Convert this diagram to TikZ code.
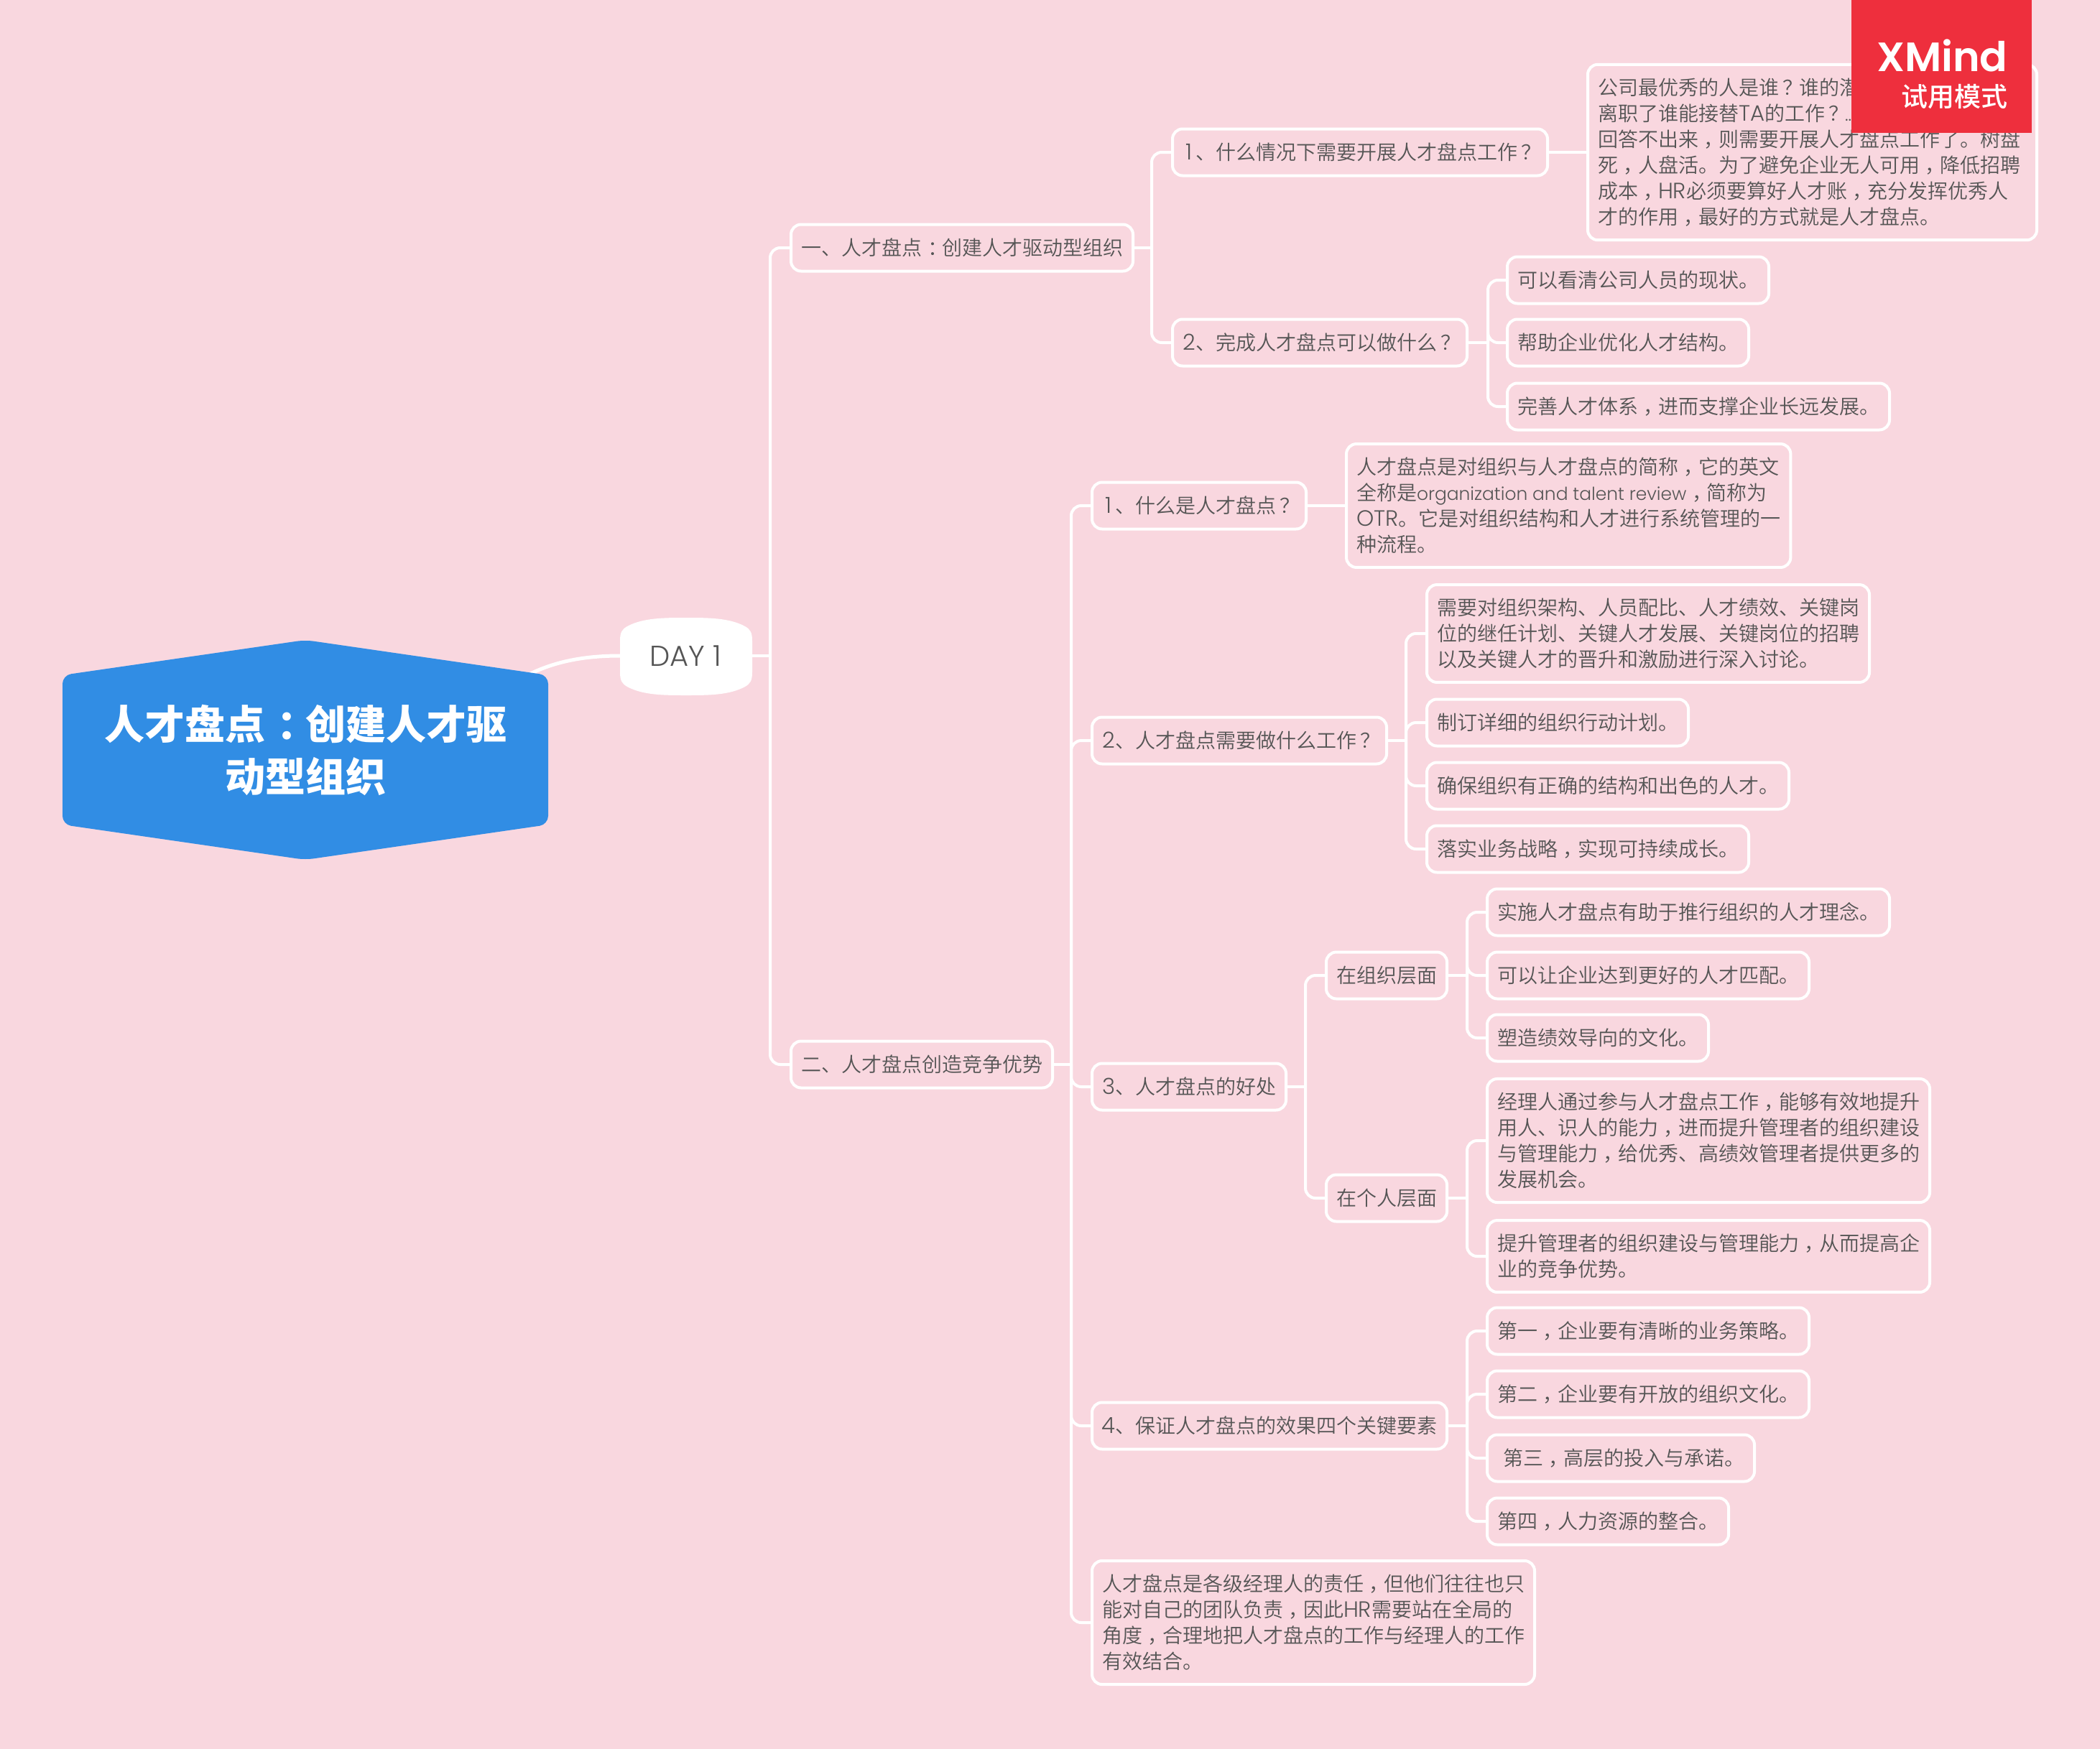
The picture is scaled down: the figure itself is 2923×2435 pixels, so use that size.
\documentclass[tikz,border=0pt]{standalone}
\usepackage{fontspec}
\setmainfont{Noto Sans CJK SC}[UprightFont=* DemiLight,BoldFont=* Black]
\newfontfamily\lat[Scale=0.89]{Poppins}[UprightFont=* Light]
\newfontfamily\latcap[Scale=1.1]{Poppins}[UprightFont=* Light]
\newfontfamily\wmfont{Poppins}[UprightFont=* SemiBold]
\newfontfamily\wmnote{Noto Sans CJK SC}[UprightFont=* Medium]
\newcommand{\nm}[1]{\makebox[9pt][c]{\latcap #1}}
\catcode`，=\active \def，{\kern.28em\char"FF0C\kern-.28em}
\catcode`？=\active \def？{\kern.2em\char"FF1F\kern-.2em}
\catcode`：=\active \def：{\kern.3em\char"FF1A\kern-.3em}
\definecolor{bgpink}{HTML}{F9D7DF}
\definecolor{rootblue}{HTML}{318DE4}
\definecolor{markred}{HTML}{EE2F3D}
\definecolor{inkgrey}{HTML}{555555}

\begin{document}
\begin{tikzpicture}[x=0.5pt, y=-0.5pt,
        link/.style={draw=white, line width=2pt, rounded corners=7pt},
        topic/.style={draw=white, line width=2pt, rounded corners=7pt, anchor=west, align=left, xshift=-0.5pt,
            text=inkgrey, font=\fontsize{14}{18}\selectfont, inner xsep=7pt, inner ysep=9.5pt, minimum height=32.5pt},
        roottext/.style={text=white, font=\fontsize{28}{36.5}\selectfont\bfseries, align=center}]
    \fill[bgpink] (0,0) rectangle (2923,2435);
    \useasboundingbox (0,0) rectangle (2923,2435);

    \coordinate (rootout) at (725,945);
    \draw[link, line width=2.5pt] (rootout) .. controls (765,922) and (810,913) .. (863,913);
    \fill[rootblue, rounded corners=6pt] (87,940) -- (425,891) -- (763,940) -- (763,1148) -- (425,1197) -- (87,1148) -- cycle;
    \fill[white] (863,892) .. controls (863,880) and (866,876) .. (873,872) .. controls (895,860) and (925,860) .. (955,860)
        .. controls (985,860) and (1015,860) .. (1037,872) .. controls (1044,876) and (1047,880) .. (1047,892)
        -- (1047,936) .. controls (1047,948) and (1044,952) .. (1037,956) .. controls (1015,968) and (985,968) .. (955,968)
        .. controls (925,968) and (895,968) .. (873,956) .. controls (866,952) and (863,948) .. (863,936) -- cycle;

    \node[roottext] (root) at (425,1044) {人才盘点：创建人才驱\\动型组织};
    \node[text=inkgrey, font=\lat\fontsize{22.5}{24}\selectfont] (day) at (954,913) {DAY 1};

    \node[topic] (one) at (1100,345) {一、人才盘点：创建人才驱动型组织};
    \node[topic] (two) at (1100,1482) {二、人才盘点创造竞争优势};

    \node[topic] (oa) at (1631,212) {\nm{1}、什么情况下需要开展人才盘点工作？};
    \node[topic] (ob) at (1631,477) {\nm{2}、完成人才盘点可以做什么？};
    \node[topic, text width=298.5pt] (oa1) at (2209,212) {公司最优秀的人是谁？谁的潜\\离职了谁能接替{\latcap TA}的工作？{\lat ..}\\回答不出来，则需要开展人才盘点工作了。树盘\\死，人盘活。为了避免企业无人可用，降低招聘\\成本，{\latcap HR}必须要算好人才账，充分发挥优秀人\\才的作用，最好的方式就是人才盘点。};
    \node[topic] (ob1) at (2097,390) {可以看清公司人员的现状。};
    \node[topic] (ob2) at (2097,477) {帮助企业优化人才结构。};
    \node[topic] (ob3) at (2097,566) {完善人才体系，进而支撑企业长远发展。};

    \node[topic] (ta) at (1519,704) {\nm{1}、什么是人才盘点？};
    \node[topic] (ta1) at (1873,704) {人才盘点是对组织与人才盘点的简称，它的英文\\全称是{\lat organization and talent review}，简称为\\{\latcap OTR}。它是对组织结构和人才进行系统管理的一\\种流程。};
    \node[topic] (tb) at (1519,1031) {\nm{2}、人才盘点需要做什么工作？};
    \node[topic] (tb1) at (1985,882) {需要对组织架构、人员配比、人才绩效、关键岗\\位的继任计划、关键人才发展、关键岗位的招聘\\以及关键人才的晋升和激励进行深入讨论。};
    \node[topic] (tb2) at (1985,1006) {制订详细的组织行动计划。};
    \node[topic] (tb3) at (1985,1094) {确保组织有正确的结构和出色的人才。};
    \node[topic] (tb4) at (1985,1182) {落实业务战略，实现可持续成长。};

    \node[topic] (tc) at (1519,1513) {\nm{3}、人才盘点的好处};
    \node[topic] (tco) at (1845,1358) {在组织层面};
    \node[topic] (tco1) at (2069,1270) {实施人才盘点有助于推行组织的人才理念。};
    \node[topic] (tco2) at (2069,1358) {可以让企业达到更好的人才匹配。};
    \node[topic] (tco3) at (2069,1445) {塑造绩效导向的文化。};
    \node[topic] (tcp) at (1845,1668) {在个人层面};
    \node[topic] (tcp1) at (2069,1588) {经理人通过参与人才盘点工作，能够有效地提升\\用人、识人的能力，进而提升管理者的组织建设\\与管理能力，给优秀、高绩效管理者提供更多的\\发展机会。};
    \node[topic] (tcp2) at (2069,1749) {提升管理者的组织建设与管理能力，从而提高企\\业的竞争优势。};

    \node[topic] (td) at (1519,1985) {\nm{4}、保证人才盘点的效果四个关键要素};
    \node[topic] (td1) at (2069,1853) {第一，企业要有清晰的业务策略。};
    \node[topic] (td2) at (2069,1941) {第二，企业要有开放的组织文化。};
    \node[topic] (td3) at (2069,2030) {\kern4pt 第三，高层的投入与承诺。};
    \node[topic] (td4) at (2069,2118) {第四，人力资源的整合。};
    \node[topic] (te) at (1519,2259) {人才盘点是各级经理人的责任，但他们往往也只\\能对自己的团队负责，因此{\latcap HR}需要站在全局的\\角度，合理地把人才盘点的工作与经理人的工作\\有效结合。};

    \coordinate (sday) at (1072,913);
    \coordinate (sone) at (1603,345);
    \coordinate (stwo) at (1491,1482);
    \coordinate (sob) at (2071,477);
    \coordinate (stb) at (1957,1031);
    \coordinate (stc) at (1817,1513);
    \coordinate (stco) at (2042,1358);
    \coordinate (stcp) at (2042,1668);
    \coordinate (std) at (2042,1985);

    \draw[link] (1047,913) -- (sday);
    \draw[link] (one.east) -- (sone);
    \draw[link] (two.east) -- (stwo);
    \draw[link] (ob.east) -- (sob);
    \draw[link] (oa.east) -- (oa1.west);
    \draw[link] (ta.east) -- (ta1.west);
    \draw[link] (tb.east) -- (stb);
    \draw[link] (tc.east) -- (stc);
    \draw[link] (tco.east) -- (stco);
    \draw[link] (tcp.east) -- (stcp);
    \draw[link] (td.east) -- (std);
    \foreach \c in {one,two} \draw[link] (sday) |- (\c.west);
    \foreach \c in {oa,ob} \draw[link] (sone) |- (\c.west);
    \foreach \c in {ob1,ob2,ob3} \draw[link] (sob) |- (\c.west);
    \foreach \c in {ta,tb,tc,td,te} \draw[link] (stwo) |- (\c.west);
    \foreach \c in {tb1,tb2,tb3,tb4} \draw[link] (stb) |- (\c.west);
    \foreach \c in {tco,tcp} \draw[link] (stc) |- (\c.west);
    \foreach \c in {tco1,tco2,tco3} \draw[link] (stco) |- (\c.west);
    \foreach \c in {tcp1,tcp2} \draw[link] (stcp) |- (\c.west);
    \foreach \c in {td1,td2,td3,td4} \draw[link] (std) |- (\c.west);

    \fill[markred] (2577,0) rectangle (2828,185);
    \node[text=white, font=\wmfont\fontsize{28.5}{30}\selectfont, anchor=east, inner sep=0pt] (markname) at (2795,77) {XMind};
    \node[text=white, font=\wmnote\fontsize{18.5}{22}\selectfont, anchor=east, inner sep=0pt] (marknote) at (2795,135) {试用模式};
\end{tikzpicture}
\end{document}
